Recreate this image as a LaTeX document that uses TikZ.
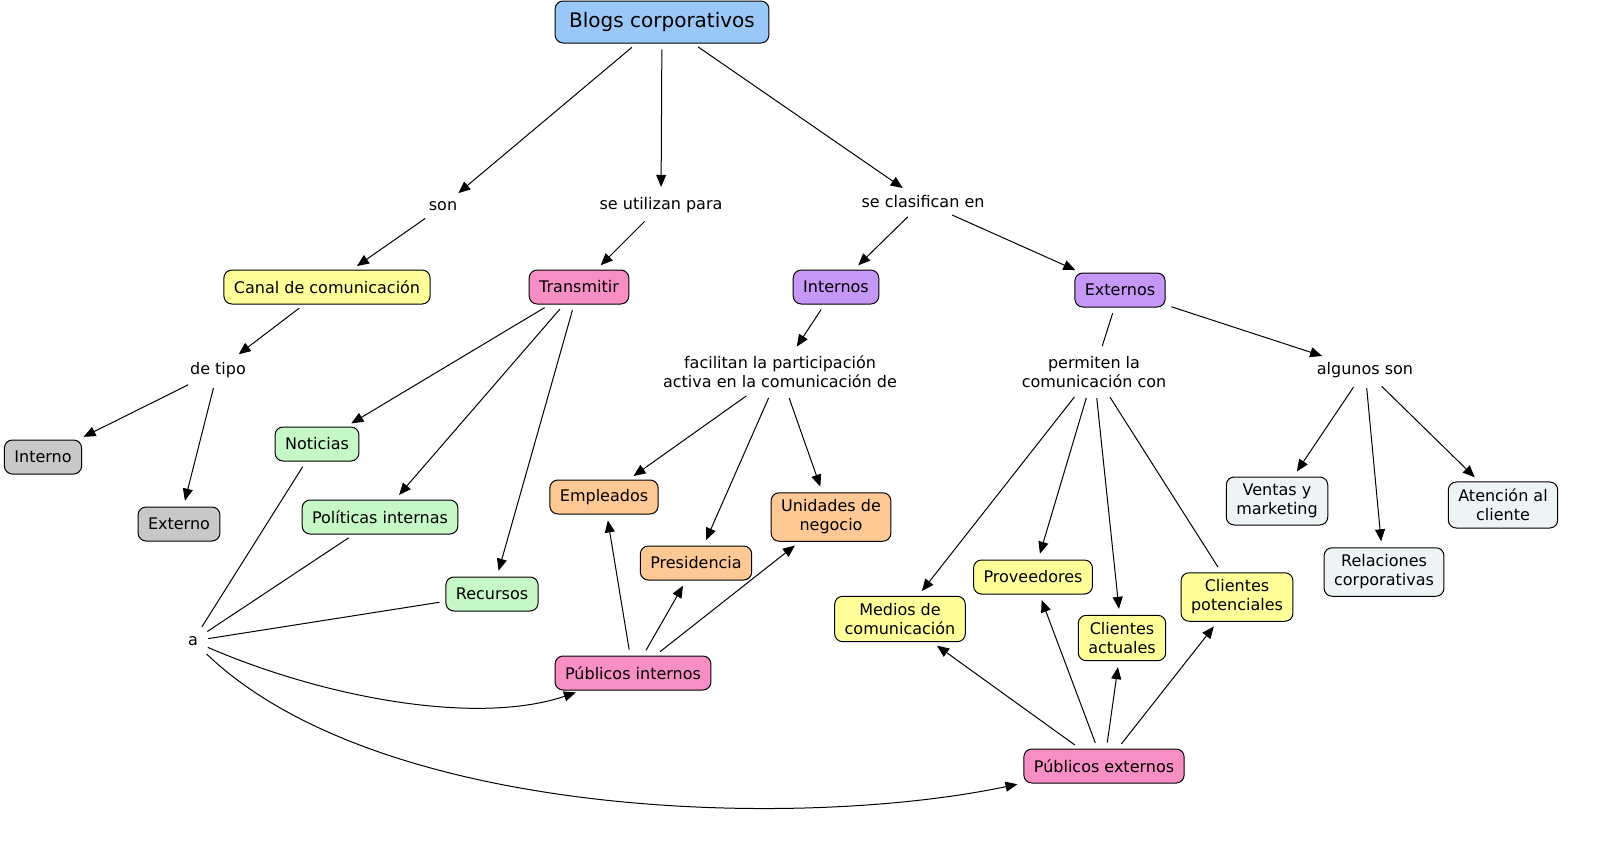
\documentclass[tikz,border=0pt]{standalone}
\usepackage{fontspec}
\setmainfont{DejaVu Sans}
\usetikzlibrary{arrows.meta}
\definecolor{cblue}{HTML}{99C8F8}
\definecolor{cyel}{HTML}{FFFF99}
\definecolor{cpink}{HTML}{F78FC5}
\definecolor{cpur}{HTML}{C597F7}
\definecolor{cgray}{HTML}{C8C8C8}
\definecolor{cgreen}{HTML}{C6F7C6}
\definecolor{corange}{HTML}{FDC893}
\definecolor{clight}{HTML}{EEF3F5}
\begin{document}
\begin{tikzpicture}[x=0.5pt,y=-0.5pt,
  every node/.style={font=\fontsize{8}{9.5}\selectfont, align=center},
  box/.style={draw=black, line width=0.5pt, rounded corners=4pt, inner xsep=5pt, inner ysep=3.5pt, minimum height=17pt},
  lab/.style={inner sep=2pt},
  arr/.style={-{Triangle[length=6pt,width=5pt]}, line width=0.5pt, shorten >=3pt, shorten <=3pt},
  ln/.style={line width=0.5pt, shorten >=3pt, shorten <=3pt}]
\useasboundingbox (0,0) rectangle (1600,841);
\node[box,fill=cblue,font=\fontsize{10}{12}\selectfont,minimum height=21pt,inner xsep=7pt] (blogs) at (662,22) {Blogs corporativos};
\node[lab] (son) at (443,206) {son};
\node[lab] (util) at (661,205) {se utilizan para};
\node[lab] (clas) at (923,202) {se clasifican en};
\node[box,fill=cyel] (canal) at (327,287) {Canal de comunicación};
\node[box,fill=cpink] (trans) at (579,287) {Transmitir};
\node[box,fill=cpur] (int) at (836,287) {Internos};
\node[box,fill=cpur] (ext) at (1120,290) {Externos};
\node[lab] (tipo) at (218,370) {de tipo};
\node[lab] (fac) at (780,372) {facilitan la participación\\activa en la comunicación de};
\node[lab] (perm) at (1094,372) {permiten la\\comunicación con};
\node[lab] (alg) at (1365,370) {algunos son};
\node[box,fill=cgray] (interno) at (43,457) {Interno};
\node[box,fill=cgray] (externo) at (179,524) {Externo};
\node[box,fill=cgreen] (not) at (317,444) {Noticias};
\node[box,fill=cgreen] (pol) at (380,517) {Políticas internas};
\node[box,fill=cgreen] (rec) at (492,594) {Recursos};
\node[lab] (a) at (193,641) {a};
\node[box,fill=corange] (emp) at (604,497) {Empleados};
\node[box,fill=corange] (pres) at (696,563) {Presidencia};
\node[box,fill=corange] (uni) at (831,517) {Unidades de\\negocio};
\node[box,fill=cpink] (pint) at (633,673) {Públicos internos};
\node[box,fill=cyel] (med) at (900,619) {Medios de\\comunicación};
\node[box,fill=cyel] (prov) at (1033,577) {Proveedores};
\node[box,fill=cyel] (cact) at (1122,638) {Clientes\\actuales};
\node[box,fill=cyel] (cpot) at (1237,597) {Clientes\\potenciales};
\node[box,fill=cpink] (pext) at (1104,766) {Públicos externos};
\node[box,fill=clight] (ven) at (1277,501) {Ventas y\\marketing};
\node[box,fill=clight] (rel) at (1384,572) {Relaciones\\corporativas};
\node[box,fill=clight] (aten) at (1503,505) {Atención al\\cliente};

\draw[arr] (blogs) -- (son);
\draw[arr] (son) -- (canal);
\draw[arr] (blogs) -- (util);
\draw[arr] (util) -- (trans);
\draw[arr] (blogs) -- (clas);
\draw[arr] (clas) -- (int);
\draw[arr] (clas) -- (ext);
\draw[arr] (canal) -- (tipo);
\draw[arr] (tipo) -- (interno);
\draw[arr] (tipo) -- (externo);
\draw[arr] (trans) -- (not);
\draw[arr] (trans) -- (pol);
\draw[arr] (trans) -- (rec);
\draw[arr] (int) -- (fac);
\draw[arr] (fac) -- (emp);
\draw[arr] (fac) -- (pres);
\draw[arr] (fac) -- (uni);
\draw[ln] (ext) -- (perm);
\draw[arr] (perm) -- (med);
\draw[arr] (perm) -- (prov);
\draw[arr] (perm) -- (cact);
\draw[ln] (perm) -- (cpot);
\draw[arr] (ext) -- (alg);
\draw[arr] (alg) -- (ven);
\draw[arr] (alg) -- (rel);
\draw[arr] (alg) -- (aten);
\draw[ln] (not) -- (a);
\draw[ln] (pol) -- (a);
\draw[ln] (rec) -- (a);
\draw[arr] (a) .. controls (330,700) and (480,725) .. (pint);
\draw[arr] (a) .. controls (380,820) and (800,830) .. (pext);
\draw[arr] (pint) -- (emp);
\draw[arr] (pint) -- (pres);
\draw[arr] (pint) -- (uni);
\draw[arr] (pext) -- (med);
\draw[arr] (pext) -- (prov);
\draw[arr] (pext) -- (cact);
\draw[arr] (pext) -- (cpot);
\end{tikzpicture}
\end{document}
